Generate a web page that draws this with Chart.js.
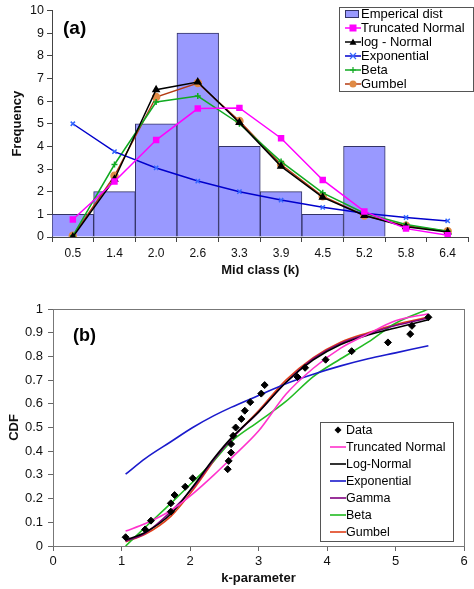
<!DOCTYPE html>
<html>
<head>
<meta charset="utf-8">
<script src="https://cdn.jsdelivr.net/npm/chart.js@4.4.0/dist/chart.umd.min.js"></script>
<style>
    html, body { margin: 0; padding: 0; background: #fff; }
    #wrapA { position: absolute; left: 0; top: 0; }
    #wrapB { position: absolute; left: 0; top: 295px; }
</style>
</head>
<body>
<div id="wrapA"><canvas id="histChart" width="474" height="292"></canvas></div>
<div id="wrapB"><canvas id="cdfChart" width="474" height="294"></canvas></div>
<script>
/* =========================
   DATA - PANEL (a)
========================= */

const midClass = ["0.5", "1.4", "2.0", "2.6", "3.3", "3.9", "4.5", "5.2", "5.8", "6.4"];
const empiricalFreq = [1, 2, 5, 9, 4, 2, 1, 4, 0, 0];
const truncNormalFreq = [0.77, 2.45, 4.28, 5.67, 5.7, 4.36, 2.52, 1.13, 0.37, 0.08];
const logNormalFreq = [0.0, 2.55, 6.5, 6.84, 5.05, 3.12, 1.75, 0.95, 0.45, 0.22];
const exponentialFreq = [5.0, 3.77, 3.05, 2.47, 2.0, 1.63, 1.31, 1.05, 0.86, 0.71];
const betaFreq = [0.05, 3.2, 5.96, 6.22, 5.0, 3.33, 1.95, 1.05, 0.55, 0.25];
const gumbelFreq = [0.05, 2.7, 6.18, 6.8, 5.12, 3.2, 1.8, 0.95, 0.5, 0.25];

/* =========================
   DATA - PANEL (b)
========================= */

const kData = [1.06, 1.345, 1.43, 1.72, 1.72, 1.775, 1.93, 2.04, 2.55, 2.565, 2.6, 2.6, 2.63, 2.667,
    2.75, 2.8, 2.88, 3.04, 3.09, 3.57, 3.68, 3.98, 4.36, 4.89, 5.215, 5.24, 5.48];
const cdfData = [0.037, 0.07, 0.107, 0.145, 0.18, 0.215, 0.25, 0.286, 0.324, 0.359, 0.394, 0.43, 0.465, 0.5,
    0.536, 0.571, 0.607, 0.643, 0.679, 0.713, 0.752, 0.786, 0.822, 0.859, 0.894, 0.929, 0.965];

const kGrid = [1.06, 1.35, 1.72, 2.04, 2.35, 2.6, 3.0, 3.4, 3.8, 4.2, 4.6, 5.0, 5.48];
const cdfTruncNormal = [0.063, 0.095, 0.15, 0.22, 0.30, 0.37, 0.485, 0.64, 0.75, 0.835, 0.895, 0.95, 0.98];
const cdfLogNormal = [0.025, 0.058, 0.135, 0.25, 0.37, 0.455, 0.565, 0.69, 0.785, 0.85, 0.89, 0.92, 0.955];
const cdfExponential = [0.303, 0.37, 0.44, 0.50, 0.55, 0.585, 0.635, 0.685, 0.725, 0.76, 0.79, 0.815, 0.845];
const cdfGamma = [0.02, 0.055, 0.145, 0.245, 0.365, 0.45, 0.565, 0.69, 0.79, 0.855, 0.895, 0.93, 0.962];
const cdfBeta = [0.0, 0.08, 0.18, 0.27, 0.36, 0.44, 0.525, 0.61, 0.715, 0.79, 0.86, 0.94, 1.0];
const cdfGumbel = [0.018, 0.05, 0.125, 0.235, 0.36, 0.45, 0.57, 0.70, 0.795, 0.86, 0.90, 0.935, 0.966];

const yTicksA = [0, 1, 2, 3, 4, 5, 6, 7, 8, 9, 10];
const yTicksB = [0, 0.1, 0.2, 0.3, 0.4, 0.5, 0.6, 0.7, 0.8, 0.9, 1];
const xTicksB = [0, 1, 2, 3, 4, 5, 6];

/* =========================
   SETUP
========================= */

Chart.defaults.font.family = "'Liberation Sans', Arial, sans-serif";
Chart.defaults.color = "#111";
Chart.defaults.animation = false;

document.addEventListener("DOMContentLoaded", () => {
    renderHistChart();
    renderCdfChart();
});

function toPoints(xs, ys) {
    return xs.map((x, i) => ({ x: x, y: ys[i] }));
}

function drawMarker(ctx, style, x, y, r, fill, stroke) {
    ctx.save();
    ctx.fillStyle = fill;
    ctx.strokeStyle = stroke;
    ctx.lineWidth = 1.2;
    ctx.beginPath();
    if (style === "rect") {
        ctx.rect(x - r, y - r, 2 * r, 2 * r);
        ctx.fill();
    } else if (style === "triangle") {
        ctx.moveTo(x, y - r);
        ctx.lineTo(x + r, y + r * 0.8);
        ctx.lineTo(x - r, y + r * 0.8);
        ctx.closePath();
        ctx.fill();
    } else if (style === "circle") {
        ctx.arc(x, y, r, 0, Math.PI * 2);
        ctx.fill();
    } else if (style === "rectRot") {
        ctx.moveTo(x, y - r);
        ctx.lineTo(x + r, y);
        ctx.lineTo(x, y + r);
        ctx.lineTo(x - r, y);
        ctx.closePath();
        ctx.fill();
    } else if (style === "cross") {
        ctx.moveTo(x - r, y); ctx.lineTo(x + r, y);
        ctx.moveTo(x, y - r); ctx.lineTo(x, y + r);
        ctx.stroke();
    } else if (style === "crossRot") {
        ctx.moveTo(x - r, y - r); ctx.lineTo(x + r, y + r);
        ctx.moveTo(x - r, y + r); ctx.lineTo(x + r, y - r);
        ctx.stroke();
    }
    ctx.restore();
}

/* =========================
   PLUGINS
========================= */

// legend box drawn inside the plot, like the original figure
const boxLegend = {
    id: "boxLegend",
    afterDraw(chart, args, opts) {
        const ctx = chart.ctx;
        ctx.save();
        ctx.fillStyle = "#fff";
        ctx.fillRect(opts.x, opts.y, opts.w, opts.h);
        ctx.strokeStyle = "#555";
        ctx.lineWidth = 1;
        ctx.strokeRect(opts.x + 0.5, opts.y + 0.5, opts.w, opts.h);
        ctx.font = opts.font;
        ctx.textBaseline = "middle";
        ctx.textAlign = "left";

        chart.data.datasets.forEach((ds, i) => {
            const y = opts.firstRow + i * opts.rowH;
            const x0 = opts.symX;
            const x1 = opts.symX + opts.symW;
            const xm = (x0 + x1) / 2;
            if (ds.type === "bar") {
                ctx.fillStyle = ds.backgroundColor;
                ctx.fillRect(x0, y - 4, opts.symW - 2, 8);
                ctx.strokeStyle = ds.borderColor;
                ctx.strokeRect(x0 + 0.5, y - 3.5, opts.symW - 3, 7);
            } else {
                if (!ds.legendNoLine) {
                    ctx.strokeStyle = ds.borderColor;
                    ctx.lineWidth = ds.borderWidth || 1.5;
                    ctx.beginPath();
                    ctx.moveTo(x0, y);
                    ctx.lineTo(x1, y);
                    ctx.stroke();
                }
                if (ds.pointRadius > 0) {
                    drawMarker(ctx, ds.pointStyle, xm, y, ds.pointRadius,
                        ds.pointBackgroundColor || ds.backgroundColor,
                        ds.pointBorderColor || ds.borderColor);
                }
            }
            ctx.fillStyle = "#000";
            ctx.fillText(ds.label, opts.textX, y + 0.5);
        });
        ctx.restore();
    }
};

const panelLabel = {
    id: "panelLabel",
    afterDraw(chart, args, opts) {
        const ctx = chart.ctx;
        ctx.save();
        ctx.font = opts.font;
        ctx.fillStyle = "#000";
        ctx.textBaseline = "middle";
        ctx.fillText(opts.text, opts.x, opts.y);
        ctx.restore();
    }
};

const plotFrame = {
    id: "plotFrame",
    afterDatasetsDraw(chart, args, opts) {
        const a = chart.chartArea;
        const ctx = chart.ctx;
        ctx.save();
        ctx.strokeStyle = opts.color;
        ctx.lineWidth = 1;
        ctx.strokeRect(Math.round(a.left) + 0.5, Math.round(a.top) + 0.5,
            Math.round(a.right - a.left), Math.round(a.bottom - a.top));
        ctx.restore();
    }
};

/* =========================
   PANEL (a) HISTOGRAM
========================= */

function renderHistChart() {
    const ctx = document.getElementById("histChart");
    if (!ctx) return;

    const lineDs = (label, data, color, markerFill, style, radius) => ({
        type: "line",
        label: label,
        data: data,
        borderColor: color,
        backgroundColor: markerFill,
        pointBackgroundColor: markerFill,
        pointBorderColor: markerFill,
        pointStyle: style,
        pointRadius: radius,
        borderWidth: 1.5,
        tension: 0,
        fill: false,
        order: 1
    });

    new Chart(ctx, {
        type: "bar",
        data: {
            labels: midClass,
            datasets: [
                {
                    type: "bar",
                    label: "Emperical dist",
                    data: empiricalFreq,
                    backgroundColor: "#9999ff",
                    borderColor: "#333366",
                    borderWidth: 1,
                    barPercentage: 1,
                    categoryPercentage: 1,
                    order: 10
                },
                lineDs("Truncated Normal", truncNormalFreq, "#ff00ff", "#ff00ff", "rect", 3.5),
                lineDs("log - Normal", logNormalFreq, "#000000", "#000000", "triangle", 3.5),
                lineDs("Exponential", exponentialFreq, "#0000cc", "#3366ff", "crossRot", 3),
                lineDs("Beta", betaFreq, "#11aa22", "#11aa22", "cross", 3),
                lineDs("Gumbel", gumbelFreq, "#b33a12", "#e08a45", "circle", 3.5)
            ]
        },
        options: {
            responsive: false,
            layout: { padding: { top: 7, right: 4, left: 0, bottom: 10 } },
            plugins: {
                legend: { display: false },
                tooltip: { enabled: false },
                boxLegend: {
                    x: 339, y: 7, w: 134, h: 84,
                    firstRow: 14, rowH: 14,
                    symX: 345, symW: 16, textX: 361,
                    font: "13px 'Liberation Sans', Arial, sans-serif"
                },
                panelLabel: { text: "(a)", x: 63, y: 29, font: "bold 19px 'Liberation Sans', Arial, sans-serif" }
            },
            scales: {
                x: {
                    offset: true,
                    grid: { offset: true, drawOnChartArea: false, tickLength: 5, color: "#444" },
                    border: { color: "#444" },
                    ticks: { font: { size: 12 }, padding: 4, maxRotation: 0 },
                    title: { display: true, text: "Mid class (k)", font: { size: 13, weight: "bold" }, padding: { top: 2, bottom: 4 } },
                    afterFit(scale) { scale.height = 45; }
                },
                y: {
                    min: 0,
                    max: 10,
                    afterBuildTicks(scale) { scale.ticks = yTicksA.map(v => ({ value: v })); },
                    grid: { drawOnChartArea: false, tickLength: 5, color: "#444" },
                    border: { color: "#444" },
                    ticks: { font: { size: 12.5 }, padding: 3, callback: v => String(v) },
                    title: { display: true, text: "Frequency", font: { size: 13, weight: "bold" }, padding: { top: 10, bottom: 0 } },
                    afterFit(scale) { scale.width = 52; }
                }
            }
        },
        plugins: [boxLegend, panelLabel]
    });
}

/* =========================
   PANEL (b) CDF
========================= */

function renderCdfChart() {
    const ctx = document.getElementById("cdfChart");
    if (!ctx) return;

    const curve = (label, ys, color) => ({
        label: label,
        data: toPoints(kGrid, ys),
        showLine: true,
        borderColor: color,
        backgroundColor: color,
        borderWidth: 1.6,
        pointRadius: 0,
        cubicInterpolationMode: "monotone",
        fill: false
    });

    new Chart(ctx, {
        type: "scatter",
        data: {
            datasets: [
                {
                    label: "Data",
                    data: toPoints(kData, cdfData),
                    showLine: false,
                    legendNoLine: true,
                    pointStyle: "rectRot",
                    pointRadius: 3.5,
                    backgroundColor: "#000",
                    borderColor: "#000",
                    order: 0
                },
                curve("Truncated Normal", cdfTruncNormal, "#ff33cc"),
                curve("Log-Normal", cdfLogNormal, "#000000"),
                curve("Exponential", cdfExponential, "#1a1acc"),
                curve("Gamma", cdfGamma, "#800080"),
                curve("Beta", cdfBeta, "#22bb22"),
                curve("Gumbel", cdfGumbel, "#e0401a")
            ]
        },
        options: {
            responsive: false,
            layout: { padding: { top: 14, right: 10, left: 0, bottom: 1 } },
            plugins: {
                legend: { display: false },
                tooltip: { enabled: false },
                boxLegend: {
                    x: 320, y: 127, w: 133, h: 119,
                    firstRow: 135, rowH: 17,
                    symX: 330, symW: 16, textX: 346,
                    font: "12.5px 'Liberation Sans', Arial, sans-serif"
                },
                panelLabel: { text: "(b)", x: 73, y: 41, font: "bold 18px 'Liberation Sans', Arial, sans-serif" },
                plotFrame: { color: "#777" }
            },
            scales: {
                x: {
                    type: "linear",
                    min: 0,
                    max: 6,
                    afterBuildTicks(scale) { scale.ticks = xTicksB.map(v => ({ value: v })); },
                    grid: { drawOnChartArea: false, tickLength: 5, color: "#666" },
                    border: { color: "#777" },
                    ticks: { font: { size: 13 }, padding: 3, callback: v => String(v) },
                    title: { display: true, text: "k-parameter", font: { size: 13, weight: "bold" }, padding: { top: 2, bottom: 2 } },
                    afterFit(scale) { scale.height = 42; }
                },
                y: {
                    min: 0,
                    max: 1,
                    afterBuildTicks(scale) { scale.ticks = yTicksB.map(v => ({ value: v })); },
                    grid: { drawOnChartArea: false, tickLength: 5, color: "#666" },
                    border: { color: "#777" },
                    ticks: { font: { size: 13 }, padding: 5, callback: v => String(v) },
                    title: { display: true, text: "CDF", font: { size: 13, weight: "bold" }, padding: { top: 7, bottom: 0 } },
                    afterFit(scale) { scale.width = 53; }
                }
            }
        },
        plugins: [boxLegend, panelLabel, plotFrame]
    });
}
</script>
</body>
</html>
